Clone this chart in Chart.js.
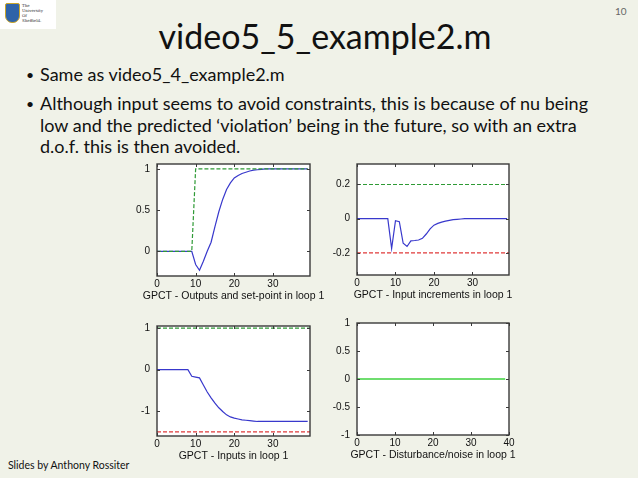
<!DOCTYPE html>
<html>
<head>
<meta charset="utf-8">
<script src="https://cdn.jsdelivr.net/npm/chart.js@4.4.0/dist/chart.umd.min.js"></script>
<style>
body{margin:0;width:638px;height:478px;overflow:hidden;position:relative;background:#f0f2e8;font-family:Lato,"Open Sans",sans-serif;color:#111}
.abs{position:absolute;white-space:nowrap}
#title{left:0;width:650px;top:16px;text-align:center;font-size:34px;line-height:40px}
.bullet{left:40px;font-size:18px;line-height:21.5px}
.dot{position:absolute;left:-14px;font-size:14px}
#logo{left:0;top:0;width:56px;height:29px;background:#fff}
#shield{left:5px;top:3px;width:13px;height:18px;background:#2f63a8;border-radius:2px 2px 7px 7px;border:1px solid #c9a52a}
#logotext{left:22px;top:3px;font-family:"DejaVu Serif",serif;font-size:4px;line-height:5px;color:#333}
#page{left:615px;top:5px;font-size:10px;color:#666}
#footer{left:8px;top:459px;font-size:10.5px}
canvas{position:absolute}
</style>
</head>
<body>
<div id="logo" class="abs"><div id="shield" class="abs"></div><div id="logotext" class="abs">The<br>University<br>Of<br>Sheffield.</div></div>
<div id="page" class="abs">10</div>
<div id="title" class="abs">video5_5_example2.m</div>
<div class="abs bullet" style="top:64px"><span class="dot">•</span>Same as video5_4_example2.m</div>
<div class="abs bullet" style="top:93px"><span class="dot">•</span>Although input seems to avoid constraints, this is because of nu being<br>low and the predicted ‘violation’ being in the future, so with an extra<br>d.o.f. this is then avoided.</div>
<div id="footer" class="abs">Slides by Anthony Rossiter</div>
<canvas id="c1"></canvas>
<canvas id="c2"></canvas>
<canvas id="c3"></canvas>
<canvas id="c4"></canvas>
<script>
// sample instants
const steps = [0,1,2,3,4,5,6,7,8,9,10,11,12,13,14,15,16,17,18,19,20,21,22,23,24,25,26,27,28,29,30,31,32,33,34,35,36,37,38,39];
const horizon = [0, 40];

// loop 1 output and set-point
const outputY = [0,0,0,0,0,0,0,0,0,0,-0.16,-0.23,-0.12,0.0,0.11,0.3,0.48,0.63,0.75,0.83,0.89,0.92,0.945,0.96,0.975,0.985,0.99,0.995,1,1,1,1,1,1,1,1,1,1,1,1];
const setPoint = [0,0,0,0,0,0,0,0,0,0,1,1,1,1,1,1,1,1,1,1,1,1,1,1,1,1,1,1,1,1,1,1,1,1,1,1,1,1,1,1];

// input increments and limits
const inputInc = [0,0,0,0,0,0,0,0,0,-0.175,-0.012,-0.018,-0.144,-0.163,-0.13,-0.128,-0.125,-0.115,-0.09,-0.06,-0.038,-0.028,-0.02,-0.015,-0.01,-0.006,-0.004,-0.002,0,0,0,0,0,0,0,0,0,0,0,0];
const incMax = 0.2, incMin = -0.2;

// inputs and limits
const inputU = [0,0,0,0,0,0,0,0,0,-0.16,-0.18,-0.2,-0.37,-0.54,-0.68,-0.81,-0.92,-1.01,-1.09,-1.14,-1.17,-1.19,-1.21,-1.22,-1.23,-1.24,-1.25,-1.25,-1.25,-1.25,-1.25,-1.25,-1.25,-1.25,-1.25,-1.25,-1.25,-1.25,-1.25,-1.25];
const uMax = 1, uMin = -1.5;

// disturbance / noise
const disturbance = [0,0,0,0,0,0,0,0,0,0,0,0,0,0,0,0,0,0,0,0,0,0,0,0,0,0,0,0,0,0,0,0,0,0,0,0,0,0,0,0];

const xTicks = [0, 10, 20, 30];
const xTicksLast = [0, 10, 20, 30, 40];
const yTicksOut = [0, 0.5, 1];
const yTicksInc = [-0.2, 0, 0.2];
const yTicksU = [-1, 0, 1];
const yTicksDist = [-1, -0.5, 0, 0.5, 1];

const BLUE = '#3838cc', GREEN = '#2f9a36', RED = '#e03a3a', LIME = '#3fd23f';
const FONT = 'Arial, "Liberation Sans", sans-serif';

// white plot area, black box, inward ticks on all four sides (matlab look)
const boxTicks = {
    id: 'boxTicks',
    beforeDatasetsDraw(chart) {
        const {ctx, chartArea: a} = chart;
        ctx.save();
        ctx.fillStyle = '#fff';
        ctx.fillRect(a.left, a.top, a.width, a.height);
        ctx.restore();
    },
    afterDatasetsDraw(chart) {
        const {ctx, chartArea: a, scales} = chart;
        const len = 3;
        ctx.save();
        ctx.strokeStyle = '#3a3a3a';
        ctx.lineWidth = 1;
        ctx.beginPath();
        scales.x.ticks.forEach(t => {
            const px = Math.round(scales.x.getPixelForValue(t.value)) + 0.5;
            ctx.moveTo(px, a.bottom); ctx.lineTo(px, a.bottom - len);
            ctx.moveTo(px, a.top); ctx.lineTo(px, a.top + len);
        });
        scales.y.ticks.forEach(t => {
            const py = Math.round(scales.y.getPixelForValue(t.value)) + 0.5;
            ctx.moveTo(a.left, py); ctx.lineTo(a.left + len, py);
            ctx.moveTo(a.right, py); ctx.lineTo(a.right - len, py);
        });
        ctx.stroke();
        ctx.lineWidth = 1.4;
        ctx.strokeRect(a.left, a.top, a.width, a.height);
        ctx.restore();
    }
};

// x label drawn by hand: the built-in axis title squeezes text to the axis width
const xLabel = {
    id: 'xLabel',
    afterDraw(chart, args, opts) {
        const {ctx, chartArea: a} = chart;
        ctx.save();
        ctx.font = '10.5px ' + FONT;
        ctx.fillStyle = '#111';
        ctx.textAlign = 'center';
        ctx.textBaseline = 'middle';
        ctx.fillText(opts.text, (a.left + a.right) / 2, a.bottom + 20);
        ctx.restore();
    }
};

const series = (ys, color, w, dash) => ({
    data: steps.map((x, i) => ({x: x, y: ys[i]})),
    borderColor: color, borderWidth: w, borderDash: dash || [], pointRadius: 0, tension: 0, fill: false
});
const limit = (v, color) => ({
    data: horizon.map(x => ({x: x, y: v})),
    borderColor: color, borderWidth: 1.2, borderDash: [4, 2], pointRadius: 0, fill: false
});

const tickFont = {family: FONT, size: 10};

function makePlot(id, box, xMax, xVals, yMin, yMax, yVals, title, datasets) {
    const padL = 45, padT = 10, padR = 22, axisH = 30;
    const cv = document.getElementById(id);
    const w = box.r - box.l + padL + padR, h = box.b - box.t + padT + axisH;
    cv.width = w; cv.height = h;
    cv.style.width = w + 'px'; cv.style.height = h + 'px';
    cv.style.left = (box.l - padL) + 'px'; cv.style.top = (box.t - padT) + 'px';
    return new Chart(cv.getContext('2d'), {
        type: 'line',
        data: {datasets: datasets},
        options: {
            responsive: false,
            animation: false,
            layout: {padding: {left: 0, top: padT, right: padR, bottom: 0}},
            plugins: {legend: {display: false}, tooltip: {enabled: false}, xLabel: {text: title}},
            scales: {
                x: {
                    type: 'linear', min: 0, max: xMax,
                    grid: {display: false, drawTicks: false},
                    border: {display: false},
                    afterBuildTicks: s => { s.ticks = xVals.map(v => ({value: v})); },
                    afterFit: s => { s.height = axisH; },
                    ticks: {color: '#111', font: tickFont, padding: 2, maxRotation: 0, callback: v => String(v)}
                },
                y: {
                    min: yMin, max: yMax,
                    grid: {display: false, drawTicks: false},
                    border: {display: false},
                    afterBuildTicks: s => { s.ticks = yVals.map(v => ({value: v})); },
                    afterFit: s => { s.width = padL; },
                    ticks: {color: '#111', font: tickFont, padding: 7, callback: v => String(v)}
                }
            }
        },
        plugins: [boxTicks, xLabel]
    });
}

makePlot('c1', {l: 157, t: 161, r: 310, b: 276}, 39.6, xTicks, -0.3, 1.06, yTicksOut,
    'GPCT - Outputs and set-point in loop 1',
    [series(setPoint, GREEN, 1.2, [4, 2]), series(outputY, BLUE, 1.2)]);

makePlot('c2', {l: 357, t: 161, r: 509, b: 275}, 39.5, xTicks, -0.33, 0.32, yTicksInc,
    'GPCT - Input increments in loop 1',
    [limit(incMax, GREEN), limit(incMin, RED), series(inputInc, BLUE, 1.2)]);

makePlot('c3', {l: 157, t: 323, r: 310, b: 436}, 39.6, xTicks, -1.6, 1.05, yTicksU,
    'GPCT - Inputs in loop 1',
    [limit(uMax, GREEN), limit(uMin, RED), series(inputU, BLUE, 1.2)]);

makePlot('c4', {l: 357, t: 320, r: 509, b: 435}, 40, xTicksLast, -1, 1, yTicksDist,
    'GPCT - Disturbance/noise in loop 1',
    [series(disturbance, LIME, 1.5)]);
</script>
</body>
</html>
